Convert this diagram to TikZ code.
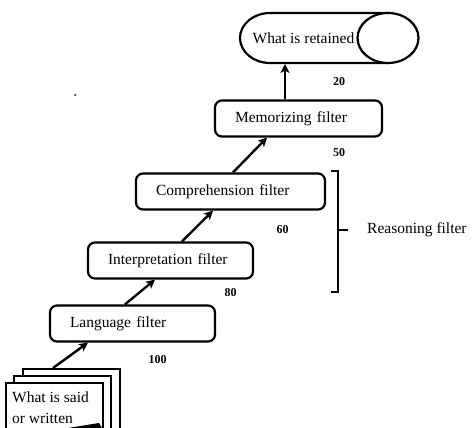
\documentclass[tikz,border=0pt]{standalone}
\usepackage{fontspec}
\setmainfont{Liberation Serif}
\usetikzlibrary{arrows.meta}
\begin{document}
\begin{tikzpicture}[x=1pt,y=-1pt,
  filt/.style={draw, line width=2.2pt, rounded corners=7pt, minimum height=36pt,
    inner xsep=20pt, inner ysep=0pt, align=left, text width=#1,
    font=\fontsize{15.5}{18}\selectfont},
  card/.style={draw, line width=2pt, fill=white, minimum width=97pt,
    minimum height=60pt, anchor=north west, inner sep=0pt},
  num/.style={font=\bfseries\fontsize{12}{14}\selectfont, inner sep=0pt},
  txt/.style={font=\fontsize{15.5}{21}\selectfont, inner sep=0pt},
  arr/.style={line width=2.4pt, -{Stealth[length=9pt,width=9pt,inset=2.5pt]}}]
\useasboundingbox (0,0) rectangle (474,428);
\clip (0,0) rectangle (474,428);

% stray dot
\fill (75,95) circle[radius=1pt];

% stack of cards
\node[card] (card3) at (22,368) {};
\node[card] (card2) at (13,375) {};
\node[card] (card1) at (5,382) {};
\node[txt, anchor=west, align=left] (said) at (12,407.5) {What is said\\or written};
\fill (68,428) -- (99,423) -- (102,428) -- cycle;

% filters
\node[filt=125pt] (lang)   at (132.5,323.5) {Language filter};
\node[filt=125pt] (interp) at (170.5,260.5) {Interpretation filter};
\node[filt=149pt] (comp)   at (230.5,191.5) {Comprehension filter};
\node[filt=127pt] (memo)   at (298.5,118.5) {Memorizing filter};

% cylinder
\draw[line width=2.2pt, fill=white] (388,13) -- (270,13)
  arc[start angle=270, end angle=90, x radius=30, y radius=25] -- (388,63);
\draw[line width=2.2pt, fill=white] (388,38) ellipse[x radius=30.5, y radius=25];
\node[txt] (ret) at (303.5,38) {What is retained};
\coordinate (retbot) at (285,64);

% arrows
\draw[arr] ([xshift=-18.5pt]card3.north) -- ([xshift=-44.5pt]lang.south);
\draw[arr] ([xshift=-7.5pt]lang.north) -- ([xshift=-15.5pt]interp.south);
\draw[arr] ([xshift=11.5pt]interp.north) -- ([xshift=-17.5pt]comp.south);
\draw[arr] ([xshift=2.5pt]comp.north) -- ([xshift=-31.5pt]memo.south);
\draw[arr] ([xshift=-13.5pt]memo.north) -- (retbot);

% numbers
\node[num] (n20)  at (339,82) {20};
\node[num] (n50)  at (339,153) {50};
\node[num] (n60)  at (282.5,230) {60};
\node[num] (n80)  at (230.5,292.5) {80};
\node[num] (n100) at (157.5,360) {100};

% bracket
\draw[line width=2.6pt] (331,171) -- (338,171) -- (338,292) -- (331,292);
\draw[line width=2.6pt] (338,230) -- (348,230);
\node[txt, anchor=west] (reason) at (367,230) {Reasoning filter};
\end{tikzpicture}
\end{document}
